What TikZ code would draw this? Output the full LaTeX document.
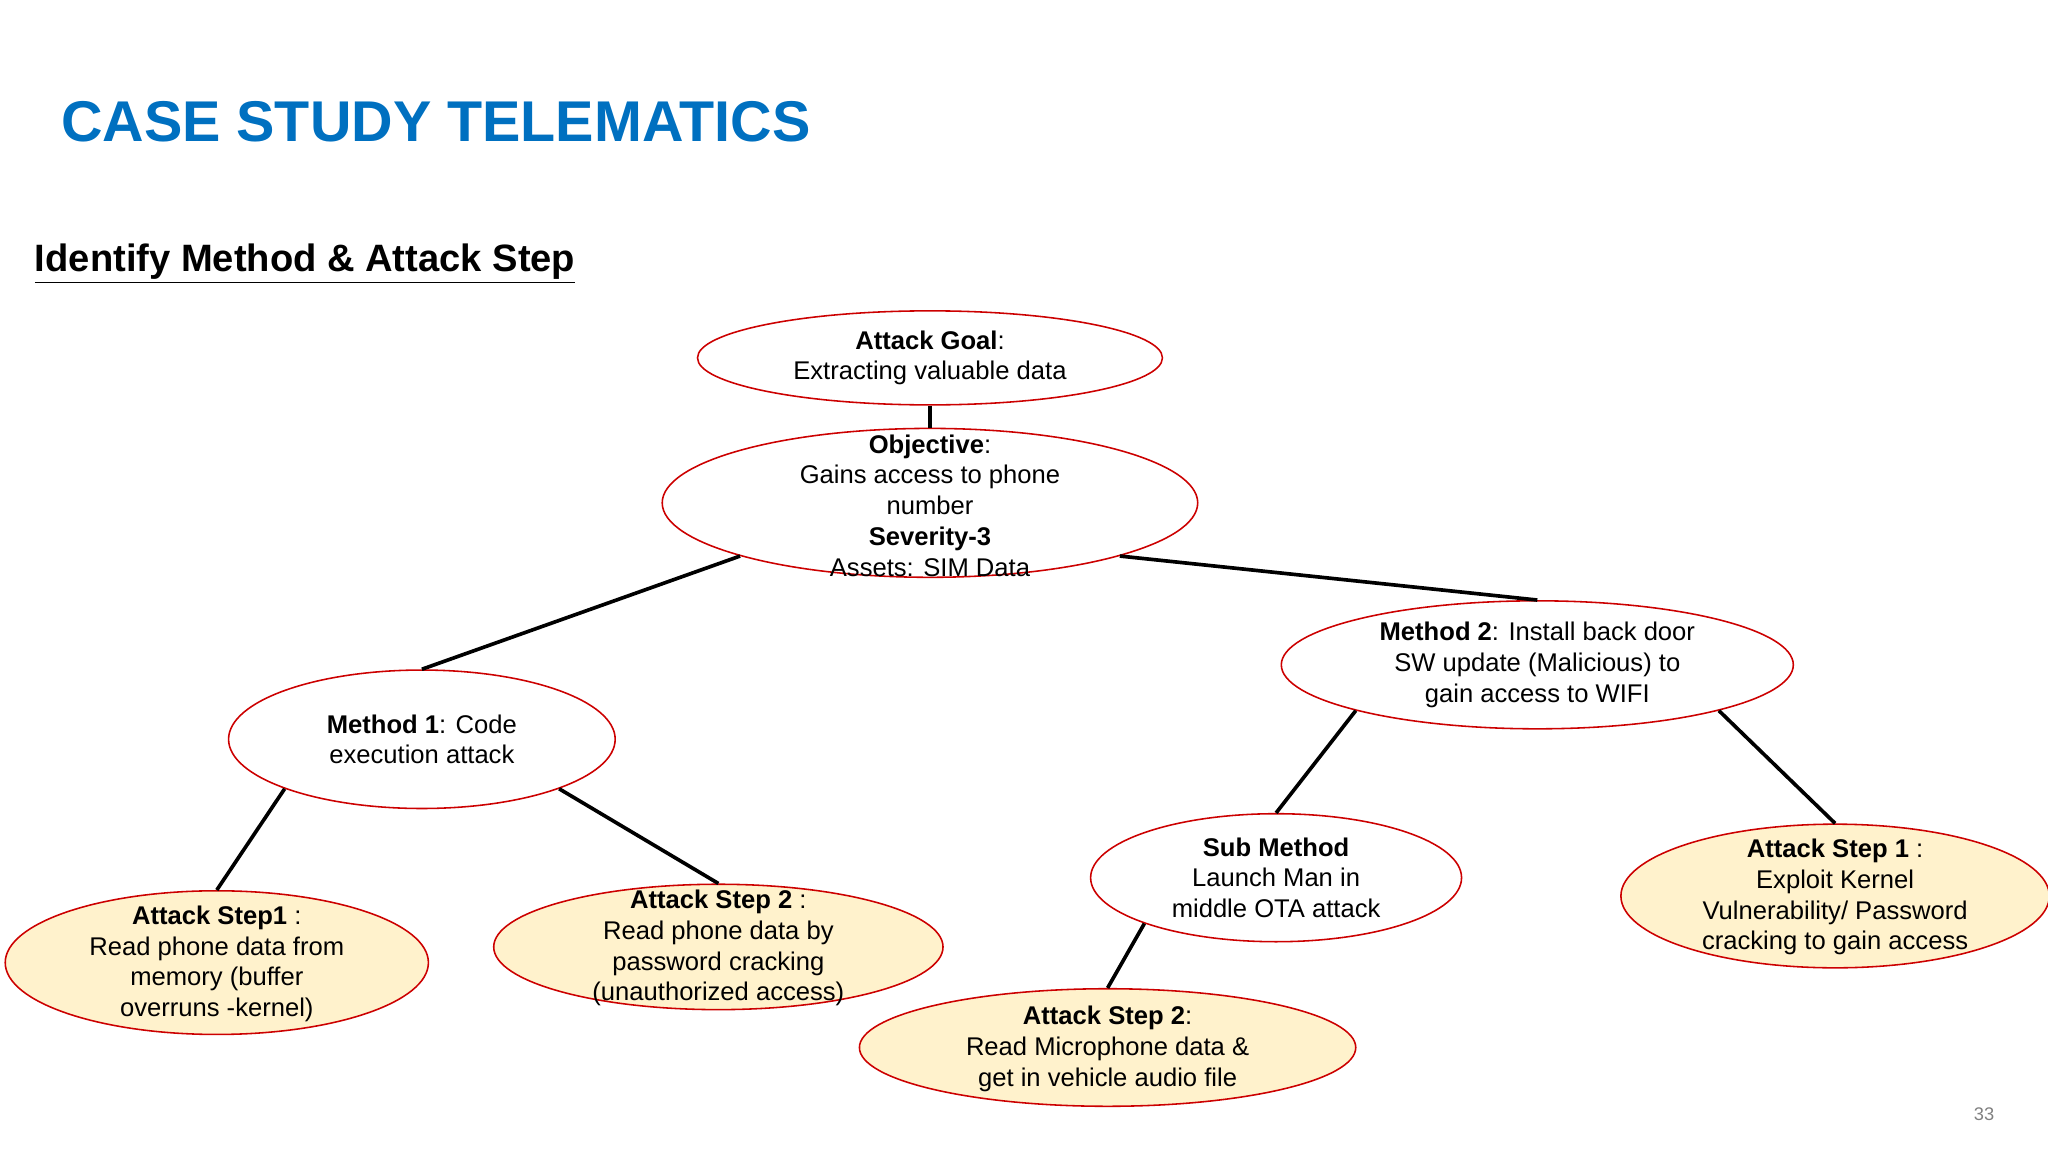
\documentclass[tikz,border=0pt]{standalone}
\usepackage{fontspec}
\setmainfont{Liberation Sans}
\usetikzlibrary{shapes.geometric}
\definecolor{titleblue}{RGB}{0,112,192}
\definecolor{ovalred}{RGB}{204,0,0}
\definecolor{stepfill}{RGB}{255,242,204}
\tikzset{every picture/.style={line width=0.75pt}}
\tikzset{
  oval/.style={ellipse,draw=ovalred,line width=0.6pt,fill=white,inner sep=0pt},
  stepoval/.style={oval,fill=stepfill},
  txt/.style={align=center,inner sep=0pt,font=\fontsize{9.8}{11.75}\selectfont},
  link/.style={line width=1.4pt}
}
\begin{document}
\begin{tikzpicture}[x=0.5pt,y=0.5pt,yscale=-1]
\useasboundingbox (0,0) rectangle (1568,882);

% titles
\node [anchor=west,inner sep=0pt,text=titleblue,font=\fontsize{22}{26}\selectfont\bfseries] (title) at (46,93) {CASE STUDY TELEMATICS};
\node [anchor=west,inner sep=0pt,font=\fontsize{14.6}{16}\selectfont\bfseries] (sub) at (26,202) {\underline{Identify Method \& Attack Step}};

% ovals
\node [oval,minimum width=178pt,minimum height=36pt] (goal) at (712,274) {};
\node [oval,minimum width=205pt,minimum height=57pt] (obj) at (712,385) {};
\node [oval,minimum width=148pt,minimum height=53pt] (mone) at (323,566) {};
\node [oval,minimum width=196pt,minimum height=49pt] (mtwo) at (1177,509) {};
\node [stepoval,minimum width=162pt,minimum height=55pt] (stepa) at (166,737) {};
\node [stepoval,minimum width=172pt,minimum height=48pt] (stepb) at (550,725) {};
\node [oval,minimum width=142pt,minimum height=49pt] (subm) at (977,672) {};
\node [stepoval,minimum width=190pt,minimum height=45pt] (stepc) at (848,802) {};
\node [stepoval,minimum width=164pt,minimum height=55pt] (stepd) at (1405,686) {};

% connectors
\draw [link] (goal.south) -- (obj.north);
\draw [link] (obj.south west) -- (mone.north);
\draw [link] (obj.south east) -- (mtwo.north);
\draw [link] (mone.south west) -- (stepa.north);
\draw [link] (mone.south east) -- (stepb.north);
\draw [link] (mtwo.south west) -- (subm.north);
\draw [link] (mtwo.south east) -- (stepd.north);
\draw [link] (subm.south west) -- (stepc.north);

% texts
\node [txt] (goalt) at (goal) {\textbf{Attack Goal}:\\Extracting valuable data};
\node [txt] (objt) at (712,387) {\textbf{Objective}:\\Gains access to phone\\number\\\textbf{Severity-3}\\Assets: SIM Data};
\node [txt] (monet) at (mone) {\textbf{Method 1}: Code\\execution attack};
\node [txt] (mtwot) at (mtwo) {\textbf{Method 2}: Install back door\\SW update (Malicious) to\\gain access to WIFI};
\node [txt] (stepat) at (166,738) {\textbf{Attack Step1} :\\Read phone data from\\memory (buffer\\overruns -kernel)};
\node [txt] (stepbt) at (550,726) {\textbf{Attack Step 2} :\\Read phone data by\\password cracking\\(unauthorized access)};
\node [txt] (submt) at (subm) {\textbf{Sub Method}\\Launch Man in\\middle OTA attack};
\node [txt] (stepct) at (848,803) {\textbf{Attack Step 2}:\\Read Microphone data \&\\get in vehicle audio file};
\node [txt] (stepdt) at (1405,687) {\textbf{Attack Step 1} :\\Exploit Kernel\\Vulnerability/ Password\\cracking to gain access};

\node [inner sep=0pt,text=gray,font=\fontsize{7}{8}\selectfont] (page) at (1519,853) {33};
\end{tikzpicture}
\end{document}
